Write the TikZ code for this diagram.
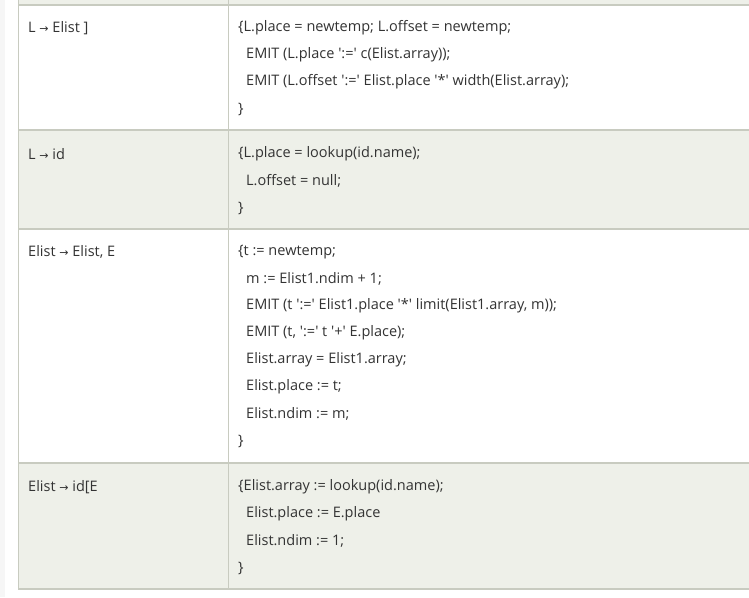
\documentclass[tikz,border=0pt]{standalone}
\usepackage{fontspec}
\setmainfont{Open Sans}
\newfontfamily\dv{DejaVu Sans}
\definecolor{rulec}{HTML}{C8CBC0}
\definecolor{shadebg}{HTML}{EEF0E9}
\definecolor{txt}{HTML}{333333}
\definecolor{sidebg}{HTML}{F6F6F6}
\newcommand{\ar}{{\dv\fontsize{11}{11}\selectfont →}}
\newcommand{\q}{\textquotesingle}
\tikzset{cell/.style={anchor=west,inner sep=0pt,text=txt,font=\fontsize{14.5}{14.5}\selectfont}}
\begin{document}
\begin{tikzpicture}[x=1pt,y=-1pt]
\useasboundingbox (0,0) rectangle (749,597);
\fill[white] (0,0) rectangle (749,597);
\fill[sidebg] (0,0) rectangle (5,597);
\fill[shadebg] (18,0) rectangle (749,5);
\fill[shadebg] (18,130) rectangle (749,229);
\fill[shadebg] (18,463) rectangle (749,589);
\draw[rulec,line width=1.2pt] (18,5)--(749,5) (18,130)--(749,130) (18,229)--(749,229) (18,463)--(749,463) (18,589)--(749,589);
\draw[rulec,line width=1pt] (18,0)--(18,589) (228,0)--(228,589);
% row 1
\node[cell] (a1) at (28,28) {L \ar{} Elist ]};
\node[cell] (b1) at (238,28) {\{L.place = newtemp; L.offset = newtemp;};
\node[cell] (b2) at (246,55) {EMIT (L.place \q:=\q{} c(Elist.array));};
\node[cell] (b3) at (246,82) {EMIT (L.offset \q:=\q{} Elist.place \q*\q{} width(Elist.array);};
\node[cell] (b4) at (238,109) {\}};
% row 2
\node[cell] (a2) at (28,154) {L \ar{} id};
\node[cell] (c1) at (238,154) {\{L.place = lookup(id.name);};
\node[cell] (c2) at (246,181) {L.offset = null;};
\node[cell] (c3) at (238,208) {\}};
% row 3
\node[cell] (a3) at (28,252) {Elist \ar{} Elist, E};
\node[cell] (d1) at (238,252) {\{t := newtemp;};
\node[cell] (d2) at (246,279) {m := Elist1.ndim + 1;};
\node[cell] (d3) at (246,306) {EMIT (t \q:=\q{} Elist1.place \q*\q{} limit(Elist1.array, m));};
\node[cell] (d4) at (246,333) {EMIT (t, \q:=\q{} t \q+\q{} E.place);};
\node[cell] (d5) at (246,360) {Elist.array = Elist1.array;};
\node[cell] (d6) at (246,387) {Elist.place := t;};
\node[cell] (d7) at (246,414) {Elist.ndim := m;};
\node[cell] (d8) at (238,441) {\}};
% row 4
\node[cell] (a4) at (28,487) {Elist \ar{} id[E};
\node[cell] (e1) at (238,487) {\{Elist.array := lookup(id.name);};
\node[cell] (e2) at (246,514) {Elist.place := E.place};
\node[cell] (e3) at (246,541) {Elist.ndim := 1;};
\node[cell] (e4) at (238,568) {\}};
\end{tikzpicture}
\end{document}
